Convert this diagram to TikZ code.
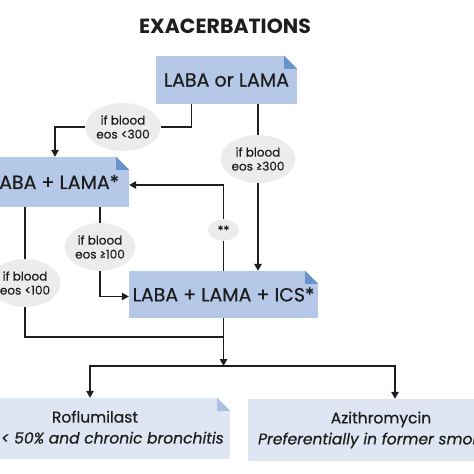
\documentclass[tikz,border=0pt]{standalone}
\usepackage{fontspec}
\setmainfont{Poppins}
\newfontfamily\medfont{Poppins}[FakeBold=0.6]
\usetikzlibrary{shapes.geometric,arrows.meta}
\definecolor{boxblue}{RGB}{182,200,232}
\definecolor{foldblue}{RGB}{104,146,204}
\definecolor{paleblue}{RGB}{222,229,243}
\definecolor{palefold}{RGB}{172,192,226}
\definecolor{condgray}{RGB}{236,236,236}
\definecolor{inkgray}{RGB}{30,30,30}
\tikzset{
  drug/.style={fill=boxblue, text=inkgray, inner sep=0pt, font=\medfont\fontsize{19}{22}\selectfont},
  addon/.style={fill=paleblue, text=inkgray, inner sep=0pt, align=center, font=\medfont\fontsize{15.5}{21}\selectfont},
  cond/.style={ellipse, fill=condgray, text=inkgray, inner sep=0pt, align=center,
    minimum width=60pt, minimum height=48pt, font=\medfont\fontsize{12}{14}\selectfont},
  link/.style={line width=1.5pt, draw=inkgray},
  flow/.style={link, -{Triangle[length=7pt,width=7.5pt]}},
}
\newcommand\dogear[2]{%
  \fill[white] ([xshift=-13pt]#1.north east) -- (#1.north east) -- ([yshift=-13pt]#1.north east) -- cycle;
  \fill[#2] ([xshift=-13pt]#1.north east) -- ([xshift=-13pt,yshift=-13pt]#1.north east) -- ([yshift=-13pt]#1.north east) -- cycle;}
\begin{document}
\begin{tikzpicture}[x=1pt,y=-1pt]
\useasboundingbox (0,0) rectangle (474,474);

\node[text=inkgray, font=\fontsize{20.5}{24}\selectfont\bfseries] (title) at (225,26) {EXACERBATIONS};

\node[drug, minimum width=141pt, minimum height=48pt] (mono) at (226.5,80) {LABA or LAMA};
\node[drug, minimum width=148pt, minimum height=50pt] (dual) at (55,182) {LABA + LAMA*};
\node[drug, minimum width=189pt, minimum height=47pt] (triple) at (223.5,294.5) {LABA + LAMA + ICS*};
\node[addon, minimum width=270pt, minimum height=61pt] (roflu) at (95,428.5)
  {Roflumilast\\\itshape FEV\textsubscript{1} < 50\% and chronic bronchitis};
\node[addon, minimum width=266pt, minimum height=62pt] (azithro) at (381,430)
  {Azithromycin\\\itshape Preferentially in former smokers};
\dogear{mono}{foldblue}
\dogear{dual}{foldblue}
\dogear{triple}{foldblue}
\dogear{roflu}{palefold}
\dogear{azithro}{palefold}

\node[cond] (lo300) at (123,127) {if blood\\eos <300};
\node[cond] (hi300) at (258,159) {if blood\\eos ≥300};
\node[cond, minimum width=62pt] (lo100) at (25,283) {if blood\\eos <100};
\node[cond] (hi100) at (100,247) {if blood\\eos ≥100};
\node[cond, minimum width=31pt, minimum height=21pt] (back) at (223.5,230) {**};

\coordinate (join) at (triple.south |- 0,337);
\coordinate (split) at (triple.south |- 0,366);

\draw[link] ([xshift=-35pt]mono.south) |- (lo300.east);
\draw[flow] (lo300.west) -| (dual.north);
\draw[link] (hi300.north |- mono.south) -- (hi300.north);
\draw[flow] (hi300.south) -- (hi300.south |- triple.north);
\draw[link] (lo100.north |- dual.south) -- (lo100.north);
\draw[link] (lo100.south) |- (join);
\draw[link] (hi100.north |- dual.south) -- (hi100.north);
\draw[flow] (hi100.south) |- ([yshift=-2pt]triple.west);
\draw[link] (back.south |- triple.north) -- (back.south);
\draw[flow] (back.north) |- ([yshift=-3pt]dual.east);
\draw[flow] (triple.south) -- (split);
\draw[flow] (split) -| ([xshift=-5pt]roflu.north);
\draw[flow] (split) -| ([xshift=14pt]azithro.north);

\end{tikzpicture}
\end{document}
